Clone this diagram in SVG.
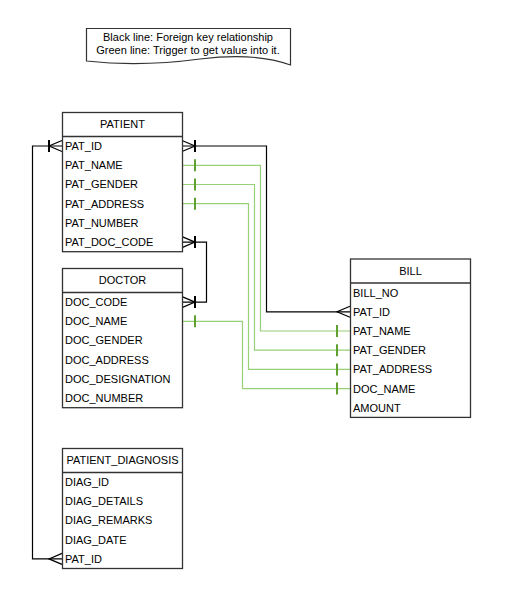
<svg xmlns="http://www.w3.org/2000/svg" width="509" height="601" viewBox="0 0 509 601">
<style>
text{font-family:"Liberation Sans",Arial,sans-serif;font-size:11px;fill:#000}
.c{text-anchor:middle}
.tb{fill:#fff;stroke:#333;stroke-width:1.3}
.hl{stroke:#333;stroke-width:1.3}
.bk{fill:none;stroke:#000;stroke-width:1.2}
.bar{stroke:#000;stroke-width:2}
.gn{fill:none;stroke:#97D077;stroke-width:1.2}
.gbar{stroke:#60A030;stroke-width:2}
</style>
<rect width="509" height="601" fill="#fff"/>
<g id="note">
<path d="M86.5,28.5 H290.5 V65 Q255,52 200,59 Q140,67 86.5,61 Z" fill="#fff" stroke="#333" stroke-width="1.2"/>
<text class="c" x="188" y="41">Black line: Foreign key relationship</text>
<text class="c" x="188" y="54">Green line: Trigger to get value into it.</text>
</g>
<g id="connectors">
<!-- PATIENT.PAT_ID -> BILL.PAT_ID -->
<path class="bk" d="M182,146 H266.5 V311.8 H350"/>
<path class="bk" d="M182,140.5 L195,146 L182,151.5"/>
<line class="bar" x1="195" y1="140" x2="195" y2="152"/>
<path class="bk" d="M350,306.3 L337,311.8 L350,317.3"/>
<!-- PATIENT.PAT_ID -> PATIENT_DIAGNOSIS.PAT_ID -->
<path class="bk" d="M62,146 H32.5 V558.9 H62"/>
<path class="bk" d="M62,140.5 L49,146 L62,151.5"/>
<line class="bar" x1="49" y1="140" x2="49" y2="152"/>
<path class="bk" d="M62,553.4 L49,558.9 L62,564.4"/>
<!-- PAT_DOC_CODE -> DOC_CODE -->
<path class="bk" d="M182,242.1 H206.5 V302.1 H182"/>
<path class="bk" d="M182,236.6 L195,242.1 L182,247.6"/>
<line class="bar" x1="195" y1="236" x2="195" y2="248"/>
<path class="bk" d="M182,296.6 L195,302.1 L182,307.6"/>
<line class="bar" x1="195" y1="296" x2="195" y2="308"/>
<!-- green triggers -->
<path class="gn" d="M182,165.3 H260.5 V331 H350"/>
<line class="gbar" x1="195" y1="159.3" x2="195" y2="171.3"/>
<line class="gbar" x1="337" y1="325" x2="337" y2="337"/>
<path class="gn" d="M182,184.5 H254.5 V350.2 H350"/>
<line class="gbar" x1="195" y1="178.5" x2="195" y2="190.5"/>
<line class="gbar" x1="337" y1="344.2" x2="337" y2="356.2"/>
<path class="gn" d="M182,203.7 H248.5 V369.4 H350"/>
<line class="gbar" x1="195" y1="197.7" x2="195" y2="209.7"/>
<line class="gbar" x1="337" y1="363.4" x2="337" y2="375.4"/>
<path class="gn" d="M182,321.3 H242.5 V388.6 H350"/>
<line class="gbar" x1="195" y1="315.3" x2="195" y2="327.3"/>
<line class="gbar" x1="337" y1="382.6" x2="337" y2="394.6"/>
</g>
<g id="patient">
<rect class="tb" x="62.5" y="112.5" width="120" height="139.2"/>
<line class="hl" x1="62.5" y1="136.5" x2="182.5" y2="136.5"/>
<text class="c" x="122.5" y="128">PATIENT</text>
<text x="65" y="150">PAT_ID</text>
<text x="65" y="169.2">PAT_NAME</text>
<text x="65" y="188.4">PAT_GENDER</text>
<text x="65" y="207.6">PAT_ADDRESS</text>
<text x="65" y="226.8">PAT_NUMBER</text>
<text x="65" y="246">PAT_DOC_CODE</text>
</g>
<g id="doctor">
<rect class="tb" x="62.5" y="268.5" width="120" height="139.2"/>
<line class="hl" x1="62.5" y1="292.5" x2="182.5" y2="292.5"/>
<text class="c" x="122.5" y="284">DOCTOR</text>
<text x="65" y="306">DOC_CODE</text>
<text x="65" y="325.2">DOC_NAME</text>
<text x="65" y="344.4">DOC_GENDER</text>
<text x="65" y="363.6">DOC_ADDRESS</text>
<text x="65" y="382.8">DOC_DESIGNATION</text>
<text x="65" y="402">DOC_NUMBER</text>
</g>
<g id="bill">
<rect class="tb" x="350.5" y="259" width="120" height="158.4"/>
<line class="hl" x1="350.5" y1="283" x2="470.5" y2="283"/>
<text class="c" x="410.5" y="274.5">BILL</text>
<text x="353" y="296.5">BILL_NO</text>
<text x="353" y="315.7">PAT_ID</text>
<text x="353" y="334.9">PAT_NAME</text>
<text x="353" y="354.1">PAT_GENDER</text>
<text x="353" y="373.3">PAT_ADDRESS</text>
<text x="353" y="392.5">DOC_NAME</text>
<text x="353" y="411.7">AMOUNT</text>
</g>
<g id="patient_diagnosis">
<rect class="tb" x="62.5" y="448.5" width="120" height="120"/>
<line class="hl" x1="62.5" y1="472.5" x2="182.5" y2="472.5"/>
<text class="c" x="122.5" y="464">PATIENT_DIAGNOSIS</text>
<text x="65" y="486">DIAG_ID</text>
<text x="65" y="505.2">DIAG_DETAILS</text>
<text x="65" y="524.4">DIAG_REMARKS</text>
<text x="65" y="543.6">DIAG_DATE</text>
<text x="65" y="562.8">PAT_ID</text>
</g>
</svg>
